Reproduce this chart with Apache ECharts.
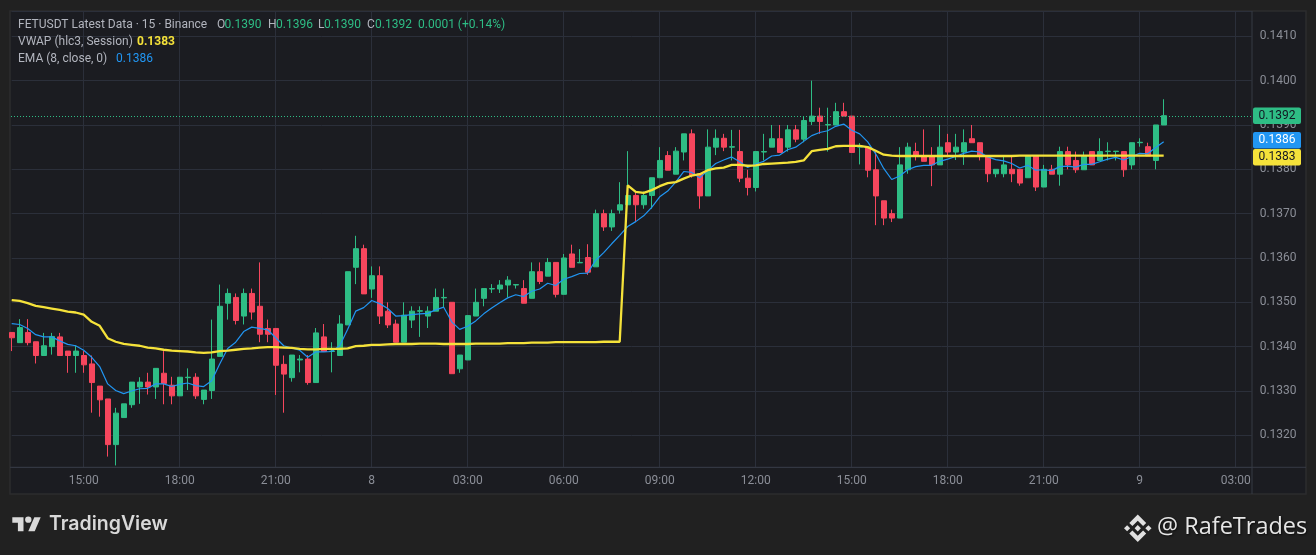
<!DOCTYPE html>
<html><head><meta charset="utf-8">
<script src="https://cdn.jsdelivr.net/npm/echarts@6/dist/echarts.min.js"></script>
<style>html,body{margin:0;padding:0;background:#212121;}#c{width:1316px;height:555px;}</style>
</head><body><div id="c"></div>
<script>
// ---- data (FETUSDT 15m, Binance) ----
const opens = [0.13432,0.13409,0.13432,0.13411,0.13380,0.13400,0.13422,0.13390,0.13380,0.13380,
 0.13361,0.13311,0.13282,0.13179,0.13240,0.13269,0.13309,0.13320,0.13309,0.13340,
 0.13313,0.13289,0.13330,0.13331,0.13281,0.13301,0.13378,0.13498,0.13511,0.13469,
 0.13520,0.13491,0.13441,0.13441,0.13360,0.13330,0.13370,0.13372,0.13319,0.13422,
 0.13389,0.13380,0.13449,0.13579,0.13621,0.13530,0.13560,0.13480,0.13451,0.13410,
 0.13460,0.13480,0.13469,0.13480,0.13510,0.13500,0.13350,0.13370,0.13469,0.13509,
 0.13530,0.13530,0.13539,0.13539,0.13531,0.13509,0.13569,0.13559,0.13590,0.13518,
 0.13609,0.13589,0.13601,0.13580,0.13700,0.13670,0.13708,0.13720,0.13741,0.13720,
 0.13741,0.13781,0.13831,0.13789,0.13839,0.13880,0.13790,0.13740,0.13850,0.13870,
 0.13850,0.13840,0.13780,0.13759,0.13839,0.13850,0.13869,0.13850,0.13889,0.13868,
 0.13908,0.13920,0.13900,0.13900,0.13930,0.13920,0.13850,0.13850,0.13799,0.13729,
 0.13700,0.13690,0.13799,0.13840,0.13830,0.13830,0.13810,0.13860,0.13839,0.13839,
 0.13869,0.13860,0.13830,0.13790,0.13790,0.13800,0.13800,0.13781,0.13831,0.13760,
 0.13800,0.13789,0.13840,0.13820,0.13799,0.13840,0.13820,0.13840,0.13840,0.13840,
 0.13810,0.13860,0.13851,0.13820,0.13900];
const closes = [0.13420,0.13443,0.13409,0.13380,0.13402,0.13423,0.13380,0.13380,0.13390,0.13359,
 0.13319,0.13280,0.13179,0.13250,0.13271,0.13320,0.13320,0.13309,0.13351,0.13317,
 0.13289,0.13331,0.13331,0.13289,0.13302,0.13372,0.13491,0.13520,0.13459,0.13520,
 0.13478,0.13428,0.13428,0.13358,0.13338,0.13381,0.13372,0.13319,0.13431,0.13389,
 0.13390,0.13451,0.13569,0.13621,0.13519,0.13560,0.13469,0.13449,0.13410,0.13471,
 0.13480,0.13481,0.13480,0.13511,0.13511,0.13339,0.13381,0.13470,0.13500,0.13531,
 0.13531,0.13539,0.13550,0.13540,0.13498,0.13569,0.13547,0.13590,0.13518,0.13600,
 0.13579,0.13590,0.13568,0.13700,0.13670,0.13700,0.13720,0.13741,0.13720,0.13741,
 0.13781,0.13820,0.13798,0.13841,0.13880,0.13786,0.13740,0.13850,0.13870,0.13850,
 0.13851,0.13780,0.13759,0.13840,0.13840,0.13869,0.13838,0.13889,0.13868,0.13910,
 0.13920,0.13908,0.13901,0.13930,0.13920,0.13838,0.13852,0.13798,0.13740,0.13690,
 0.13690,0.13810,0.13850,0.13830,0.13818,0.13810,0.13850,0.13839,0.13850,0.13860,
 0.13860,0.13830,0.13790,0.13800,0.13810,0.13790,0.13769,0.13831,0.13760,0.13800,
 0.13789,0.13840,0.13810,0.13799,0.13831,0.13810,0.13840,0.13841,0.13841,0.13799,
 0.13860,0.13861,0.13830,0.13900,0.13921];
const highs = [0.13432,0.13462,0.13462,0.13411,0.13431,0.13431,0.13431,0.13390,0.13403,0.13390,
 0.13380,0.13311,0.13282,0.13262,0.13271,0.13320,0.13331,0.13341,0.13351,0.13390,
 0.13332,0.13331,0.13351,0.13340,0.13302,0.13461,0.13540,0.13531,0.13520,0.13531,
 0.13531,0.13590,0.13461,0.13441,0.13380,0.13381,0.13381,0.13381,0.13442,0.13451,
 0.13410,0.13471,0.13569,0.13650,0.13630,0.13581,0.13581,0.13500,0.13461,0.13500,
 0.13491,0.13491,0.13491,0.13531,0.13531,0.13500,0.13381,0.13470,0.13531,0.13531,
 0.13541,0.13550,0.13559,0.13540,0.13550,0.13590,0.13590,0.13600,0.13590,0.13609,
 0.13630,0.13620,0.13631,0.13709,0.13709,0.13709,0.13771,0.13841,0.13750,0.13750,
 0.13781,0.13850,0.13841,0.13850,0.13880,0.13890,0.13790,0.13890,0.13890,0.13880,
 0.13889,0.13889,0.13799,0.13840,0.13880,0.13900,0.13900,0.13900,0.13900,0.13920,
 0.14000,0.13939,0.13939,0.13950,0.13950,0.13920,0.13859,0.13850,0.13840,0.13729,
 0.13709,0.13850,0.13860,0.13860,0.13890,0.13850,0.13900,0.13880,0.13880,0.13890,
 0.13900,0.13860,0.13830,0.13800,0.13830,0.13830,0.13800,0.13831,0.13831,0.13810,
 0.13810,0.13851,0.13851,0.13840,0.13840,0.13840,0.13870,0.13861,0.13841,0.13840,
 0.13860,0.13870,0.13860,0.13900,0.13958];
const lows = [0.13390,0.13409,0.13403,0.13362,0.13380,0.13382,0.13380,0.13341,0.13341,0.13341,
 0.13251,0.13242,0.13152,0.13132,0.13240,0.13262,0.13271,0.13292,0.13282,0.13270,
 0.13270,0.13289,0.13302,0.13282,0.13270,0.13282,0.13378,0.13461,0.13450,0.13450,
 0.13461,0.13410,0.13410,0.13291,0.13251,0.13321,0.13342,0.13314,0.13319,0.13389,
 0.13342,0.13380,0.13449,0.13541,0.13519,0.13510,0.13451,0.13442,0.13410,0.13410,
 0.13442,0.13422,0.13442,0.13480,0.13488,0.13339,0.13341,0.13370,0.13469,0.13491,
 0.13521,0.13521,0.13511,0.13531,0.13498,0.13509,0.13541,0.13559,0.13511,0.13518,
 0.13579,0.13589,0.13562,0.13580,0.13661,0.13661,0.13700,0.13720,0.13681,0.13711,
 0.13711,0.13781,0.13798,0.13789,0.13820,0.13781,0.13711,0.13740,0.13832,0.13841,
 0.13820,0.13771,0.13741,0.13750,0.13820,0.13850,0.13838,0.13840,0.13861,0.13861,
 0.13900,0.13880,0.13840,0.13900,0.13920,0.13838,0.13811,0.13782,0.13674,0.13674,
 0.13681,0.13690,0.13790,0.13820,0.13818,0.13762,0.13810,0.13830,0.13821,0.13810,
 0.13860,0.13820,0.13771,0.13782,0.13782,0.13771,0.13763,0.13781,0.13751,0.13760,
 0.13789,0.13763,0.13800,0.13792,0.13799,0.13810,0.13820,0.13820,0.13820,0.13783,
 0.13800,0.13851,0.13830,0.13800,0.13900];
const vwapValues = [0.13505,0.13503,0.13498,0.13492,0.13489,0.13486,0.13483,0.13479,0.13477,0.13472,
 0.13456,0.13447,0.13419,0.13411,0.13406,0.13404,0.13402,0.13398,0.13396,0.13393,
 0.13391,0.13390,0.13389,0.13387,0.13386,0.13387,0.13390,0.13391,0.13393,0.13395,
 0.13396,0.13398,0.13399,0.13399,0.13398,0.13397,0.13395,0.13394,0.13394,0.13395,
 0.13395,0.13395,0.13396,0.13401,0.13402,0.13404,0.13404,0.13405,0.13406,0.13406,
 0.13406,0.13407,0.13407,0.13407,0.13406,0.13406,0.13406,0.13406,0.13407,0.13407,
 0.13407,0.13407,0.13408,0.13408,0.13408,0.13409,0.13409,0.13409,0.13410,0.13410,
 0.13410,0.13410,0.13410,0.13410,0.13411,0.13411,0.13411,0.13764,0.13749,0.13747,
 0.13753,0.13762,0.13769,0.13771,0.13779,0.13786,0.13789,0.13798,0.13802,0.13804,
 0.13810,0.13810,0.13808,0.13809,0.13812,0.13813,0.13814,0.13815,0.13817,0.13820,
 0.13841,0.13844,0.13846,0.13852,0.13853,0.13853,0.13853,0.13850,0.13842,0.13833,
 0.13831,0.13830,0.13830,0.13830,0.13830,0.13830,0.13830,0.13830,0.13830,0.13830,
 0.13830,0.13830,0.13830,0.13830,0.13830,0.13830,0.13831,0.13831,0.13831,0.13831,
 0.13831,0.13831,0.13831,0.13831,0.13831,0.13831,0.13831,0.13831,0.13831,0.13831,
 0.13831,0.13831,0.13831,0.13831,0.13831];
const emaValues = [0.13452,0.13450,0.13441,0.13427,0.13422,0.13422,0.13413,0.13405,0.13402,0.13392,
 0.13376,0.13355,0.13316,0.13301,0.13294,0.13300,0.13305,0.13306,0.13316,0.13316,
 0.13310,0.13315,0.13318,0.13312,0.13310,0.13323,0.13361,0.13396,0.13410,0.13434,
 0.13444,0.13441,0.13438,0.13420,0.13402,0.13397,0.13392,0.13376,0.13388,0.13388,
 0.13389,0.13402,0.13439,0.13480,0.13488,0.13504,0.13497,0.13486,0.13469,0.13470,
 0.13472,0.13474,0.13475,0.13483,0.13489,0.13456,0.13439,0.13446,0.13458,0.13474,
 0.13487,0.13499,0.13510,0.13517,0.13513,0.13525,0.13530,0.13543,0.13538,0.13552,
 0.13558,0.13565,0.13566,0.13595,0.13612,0.13632,0.13651,0.13671,0.13682,0.13695,
 0.13714,0.13738,0.13751,0.13771,0.13795,0.13793,0.13781,0.13797,0.13813,0.13821,
 0.13828,0.13817,0.13804,0.13812,0.13818,0.13830,0.13832,0.13844,0.13850,0.13863,
 0.13876,0.13883,0.13887,0.13897,0.13902,0.13888,0.13880,0.13862,0.13835,0.13802,
 0.13777,0.13785,0.13799,0.13806,0.13809,0.13809,0.13818,0.13823,0.13829,0.13836,
 0.13841,0.13839,0.13828,0.13822,0.13819,0.13813,0.13803,0.13809,0.13798,0.13799,
 0.13797,0.13806,0.13807,0.13805,0.13811,0.13811,0.13817,0.13823,0.13827,0.13821,
 0.13829,0.13836,0.13835,0.13849,0.13862];
const tickLabels = ['15:00','18:00','21:00','8','03:00','06:00','09:00','12:00','15:00','18:00','21:00','9','03:00'];
const firstTickIndex = 9, tickStep = 12, slotCount = 156;
const categories = [];
for (let i = 0; i < slotCount; i++) {
  const m = 12*60 + 45 + 15*i, d = 7 + Math.floor(m/1440), mm = m % 1440;
  categories.push(d + ' ' + String(Math.floor(mm/60)).padStart(2,'0') + ':' + String(mm%60).padStart(2,'0'));
}
const yMin = 0.131285, yMax = 0.141571;

// ---- chart ----
const UP = '#2ebd85', DOWN = '#f6465d', VW = '#f5e23a', EM = '#2196f3';
const GRID = '#2b2f3a', AX = '#8b8e97', LINE = '#363a45';
const FONT = 'Roboto, "Noto Sans", sans-serif';
const FS = 12;
const n = closes.length;
const candleData = categories.map((c,i) => i < n ? [opens[i], closes[i], lows[i], highs[i]] : '-');
const pad = a => categories.map((c,i) => i < a.length ? a[i] : null);
const isTick = i => i >= firstTickIndex && (i - firstTickIndex) % tickStep === 0;

const chart = echarts.init(document.getElementById('c'), null, {renderer:'canvas', width:1316, height:555});
chart.setOption({
  backgroundColor: '#212121',
  animation: false,
  grid: {left: 11.7, right: 64.3, top: 11, bottom: 88},
  xAxis: {
    type: 'category', data: categories, boundaryGap: false,
    axisLine: {show: false}, axisTick: {show: false},
    axisLabel: {interval: (i) => isTick(i), formatter: (v, i) => isTick(i) ? tickLabels[(i - firstTickIndex)/tickStep] : '',
      color: AX, fontSize: FS, fontFamily: FONT, margin: 8},
    splitLine: {show: true, interval: (i) => isTick(i), lineStyle: {color: GRID, width: 1}}
  },
  yAxis: {
    type: 'value', position: 'right', min: yMin, max: yMax, splitNumber: 10, scale: true,
    axisLine: {show: false}, axisTick: {show: false},
    axisLabel: {formatter: v => v.toFixed(4), color: AX, fontSize: FS, fontFamily: FONT, margin: 8,
      showMinLabel: false, showMaxLabel: false},
    splitLine: {show: true, lineStyle: {color: GRID, width: 1}}
  },
  series: [
    {type: 'candlestick', data: candleData, barWidth: '70%',
     itemStyle: {color: UP, color0: DOWN, borderColor: UP, borderColor0: DOWN, borderWidth: 1}},
    {type: 'line', data: pad(emaValues), showSymbol: false, symbol: 'none', lineStyle: {color: EM, width: 1.2}, z: 3},
    {type: 'line', data: pad(vwapValues), showSymbol: false, symbol: 'none', lineStyle: {color: VW, width: 2.3}, z: 4}
  ]
});

// ---- overlays: panel, legend, last-price line, price tags, logos ----
const py = v => chart.convertToPixel({yAxisIndex: 0}, v);
const txt = (x, y, text, fill, extra) => Object.assign({type: 'text', x: x, y: y, z: 60,
  style: Object.assign({text: text, fill: fill, fontSize: FS, fontFamily: FONT, verticalAlign: 'middle', align: 'left'}, extra || {})});

const lastY = Math.round(py(closes[n-1])) + 0.5;
const tags = [
  {v: closes[n-1], fill: UP, tc: '#131722'},
  {v: emaValues[n-1], fill: EM, tc: '#ffffff'},
  {v: vwapValues[n-1], fill: VW, tc: '#131722'}
].map(t => Object.assign(t, {c: py(t.v)}));
const H = 16.5;
tags.sort((a,b) => a.c - b.c);
for (let i = 1; i < tags.length; i++) {
  const ov = tags[i-1].c + H - tags[i].c;
  if (ov > 0) { tags[i-1].c -= ov/2 + 0.3; tags[i].c += ov/2 + 0.3; }
}
const tagEls = [];
tags.forEach(t => {
  tagEls.push({type: 'rect', z: 100, shape: {x: 1253, y: t.c - H/2, width: 48, height: H, r: 2}, style: {fill: t.fill}});
  tagEls.push({type: 'text', z: 101, x: 1277, y: t.c, style: {text: t.v.toFixed(4), fill: t.tc, fontSize: FS, fontFamily: FONT, align: 'center', verticalAlign: 'middle'}});
});

const G = '#b2b5be';
const LOGO = '#d9d9d9';
// TradingView mark (in 36x22 design units)
const tvLogo = {type: 'group', x: 12.3, y: 514.2, scaleX: 0.8, scaleY: 0.78, z: 60, children: [
  {type: 'polygon', shape: {points: [[0,4],[14,4],[14,22],[7,22],[7,11],[0,11]]}, style: {fill: LOGO}},
  {type: 'polygon', shape: {points: [[28,22],[20,22],[27.5,4],[35.5,4]]}, style: {fill: LOGO}},
  {type: 'circle', shape: {cx: 20, cy: 7, r: 4}, style: {fill: LOGO}}
]};
// Binance mark (in 126.6 design units)
const BNC = '#e0e0e0';
const bnLogo = {type: 'group', x: 1124, y: 514.5, scaleX: 0.2172, scaleY: 0.2172, z: 60, children: [
  {type: 'polygon', shape: {points: [[38.73,53.2],[63.32,28.62],[87.92,53.22],[102.22,38.91],[63.32,0],[24.43,38.9]]}, style: {fill: BNC}},
  {type: 'polygon', shape: {points: [[0,63.31],[14.3,49],[28.61,63.31],[14.3,77.61]]}, style: {fill: BNC}},
  {type: 'polygon', shape: {points: [[38.73,73.41],[63.32,98],[87.92,73.4],[102.23,87.69],[63.33,126.6],[24.42,87.72]]}, style: {fill: BNC}},
  {type: 'polygon', shape: {points: [[97.99,63.31],[112.29,49],[126.61,63.31],[112.3,77.61]]}, style: {fill: BNC}},
  {type: 'polygon', shape: {points: [[77.83,63.3],[63.32,48.78],[48.81,63.3],[63.33,77.81]]}, style: {fill: BNC}}
]};

chart.setOption({graphic: [
  {type: 'rect', z: -10, shape: {x: 10, y: 11, width: 1296, height: 483}, style: {fill: '#1b1c21', stroke: '#2c2c2e', lineWidth: 1.5}},
  {type: 'line', z: 50, shape: {x1: 1252, y1: 11, x2: 1252, y2: 494}, style: {stroke: LINE, lineWidth: 1}},
  {type: 'line', z: 50, shape: {x1: 10, y1: 467.3, x2: 1306, y2: 467.3}, style: {stroke: LINE, lineWidth: 1}},
  {type: 'line', z: 40, shape: {x1: 11, y1: lastY, x2: 1252, y2: lastY}, style: {stroke: UP, lineWidth: 1, lineDash: [1, 2]}},
  txt(18, 24.5, 'FETUSDT Latest Data · 15 · Binance', G),
  txt(217, 24.5, 'O', G), txt(224.5, 24.5, opens[n-1].toFixed(4), UP),
  txt(268, 24.5, 'H', G), txt(276, 24.5, highs[n-1].toFixed(4), UP),
  txt(318, 24.5, 'L', G), txt(324, 24.5, lows[n-1].toFixed(4), UP),
  txt(367, 24.5, 'C', G), txt(375, 24.5, closes[n-1].toFixed(4), UP),
  txt(418, 24.5, '0.0001 (+0.14%)', UP),
  txt(18, 42, 'VWAP (hlc3, Session)', G), txt(137, 42, vwapValues[n-1].toFixed(4), VW, {fontWeight: 'bold'}),
  txt(18, 59, 'EMA (8, close, 0)', G), txt(116, 59, emaValues[n-1].toFixed(4), EM),
  tvLogo,
  {type: 'text', z: 60, x: 49, y: 524.5, style: {text: 'TradingView', fill: LOGO, fontSize: 19.5, fontWeight: 600, fontFamily: 'Inter, Lato, sans-serif', verticalAlign: 'middle'}},
  bnLogo,
  {type: 'text', z: 60, x: 1157, y: 527.5, style: {text: '@ RafeTrades', fill: '#e6e6e6', fontSize: 23.5, fontFamily: '"Open Sans", sans-serif',
    verticalAlign: 'middle', textShadowColor: 'rgba(0,0,0,0.7)', textShadowOffsetX: 1, textShadowOffsetY: 1, textShadowBlur: 2}}
].concat(tagEls)});
</script>
</body></html>
